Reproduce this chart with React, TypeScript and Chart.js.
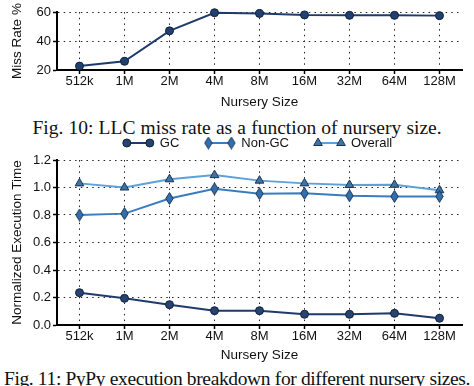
import React, { useEffect, useRef } from "react";
import { Chart, registerables } from "chart.js";
import { drawPoint } from "chart.js/helpers";

Chart.register(...registerables);

// ---------- data ----------
const nurserySizes = ["512k", "1M", "2M", "4M", "8M", "16M", "32M", "64M", "128M"];
const missRate = [22.7, 26, 47, 59.5, 59, 58, 57.7, 57.7, 57.5];
const missTicks = [20, 30, 40, 50, 60];
const seriesNames = ["GC", "Non-GC", "Overall"];
const gcTime = [0.235, 0.194, 0.148, 0.104, 0.104, 0.078, 0.078, 0.085, 0.049];
const nonGcTime = [0.8, 0.81, 0.92, 0.99, 0.955, 0.958, 0.94, 0.935, 0.935];
const overallTime = [1.03, 1.0, 1.06, 1.09, 1.05, 1.03, 1.018, 1.02, 0.98];
const timeTicks = [0, 0.2, 0.4, 0.6, 0.8, 1.0, 1.2];
const caption1 = "Fig. 10: LLC miss rate as a function of nursery size.";
const caption2 = "Fig. 11: PyPy execution breakdown for different nursery sizes.";
const xTitle = "Nursery Size";
const yTitle1 = "Miss Rate %";
const yTitle2 = "Normalized Execution Time";

const SANS = '"Liberation Sans", Arial, sans-serif';
const SERIF = '"Liberation Serif", "Times New Roman", serif';

function thinDiamond(fill: string, stroke: string) {
  const c = document.createElement("canvas");
  c.width = 9;
  c.height = 13;
  const g = c.getContext("2d")!;
  g.beginPath();
  g.moveTo(4.5, 0.6);
  g.lineTo(8.2, 6.5);
  g.lineTo(4.5, 12.4);
  g.lineTo(0.8, 6.5);
  g.closePath();
  g.fillStyle = fill;
  g.fill();
  g.lineWidth = 1;
  g.strokeStyle = stroke;
  g.stroke();
  return c;
}

const legendPlugin = {
  id: "lineLegend",
  afterDraw(chart: any) {
    const ctx = chart.ctx;
    const ds = chart.data.datasets;
    ctx.save();
    ctx.font = `13px ${SANS}`;
    const seg = 23,
      gapText = 10,
      gapItem = 29;
    const widths = ds.map((d: any) => seg + gapText + ctx.measureText(d.label).width);
    const total = widths.reduce((a: number, b: number) => a + b, 0) + gapItem * (ds.length - 1);
    let x = (chart.chartArea.left + chart.chartArea.right) / 2 - total / 2;
    const y = 11;
    ds.forEach((d: any, i: number) => {
      ctx.strokeStyle = d.borderColor;
      ctx.lineWidth = d.borderWidth;
      ctx.setLineDash([]);
      ctx.beginPath();
      ctx.moveTo(x, y);
      ctx.lineTo(x + seg, y);
      ctx.stroke();
      ctx.fillStyle = d.pointBackgroundColor;
      ctx.strokeStyle = d.pointBorderColor;
      ctx.lineWidth = d.pointBorderWidth;
      const opts = { pointStyle: d.pointStyle, radius: d.pointRadius, borderWidth: d.pointBorderWidth, rotation: 0 };
      drawPoint(ctx, opts as any, x, y);
      drawPoint(ctx, opts as any, x + seg, y);
      ctx.fillStyle = "#111";
      ctx.textBaseline = "middle";
      ctx.textAlign = "left";
      ctx.fillText(d.label, x + seg + gapText, y + 0.5);
      x += widths[i] + gapItem;
    });
    ctx.restore();
  },
};

function axisCommon(title: string, titlePad: any) {
  return {
    title: { display: true, text: title, color: "#111", font: { family: SANS, size: 13.5 }, padding: titlePad },
    border: { display: true, color: "#000", width: 2, dash: [1.5, 4.2] },
    grid: {
      color: "#222",
      lineWidth: 1,
      tickColor: "#000",
      tickWidth: 1.5,
      tickLength: 4,
      tickBorderDash: [],
    },
  };
}

function buildOptions(yMin: number, yMax: number, ticks: number[], yTitle: string, fmt: (v: number) => string, xHeight: number, padTop: number, xTitleBottom: number) {
  return {
    responsive: false,
    devicePixelRatio: 1,
    animation: false as const,
    layout: { padding: { top: padTop, right: 12, left: 0, bottom: 0 } },
    plugins: { legend: { display: false }, tooltip: { enabled: false } },
    scales: {
      x: {
        type: "category" as const,
        offset: true,
        ...axisCommon(xTitle, { top: 0, bottom: xTitleBottom }),
        grid: { ...axisCommon(xTitle, 0).grid, offset: false },
        ticks: { color: "#111", font: { family: SANS, size: 13 }, padding: 0, maxRotation: 0, autoSkip: false },
        afterFit: (s: any) => {
          s.height = xHeight;
        },
      },
      y: {
        type: "linear" as const,
        min: yMin,
        max: yMax,
        ...axisCommon(yTitle, { top: 9, bottom: 0 }),
        afterBuildTicks: (s: any) => {
          s.ticks = ticks.map((v) => ({ value: v }));
        },
        ticks: { color: "#111", font: { family: SANS, size: 13 }, padding: 2, callback: (v: any) => fmt(Number(v)) },
        afterFit: (s: any) => {
          s.width = 57;
        },
      },
    },
  };
}

function MissChart() {
  const ref = useRef<HTMLCanvasElement>(null);
  useEffect(() => {
    const chart = new Chart(ref.current!, {
      type: "line",
      data: {
        labels: nurserySizes,
        datasets: [
          {
            label: "Miss Rate",
            data: missRate,
            borderColor: "#1f3b6b",
            borderWidth: 2,
            pointRadius: 4,
            pointStyle: "circle",
            pointBackgroundColor: "#22406f",
            pointBorderColor: "#0f203c",
            pointBorderWidth: 1,
            tension: 0,
            clip: false as any,
          },
        ],
      },
      options: buildOptions(20, 60, missTicks, yTitle1, (v) => String(v), 42, 12, 2) as any,
    });
    return () => chart.destroy();
  }, []);
  return <canvas ref={ref} width={474} height={112} style={{ position: "absolute", left: 0, top: 0, width: 474, height: 112 }} />;
}

function TimeChart() {
  const ref = useRef<HTMLCanvasElement>(null);
  useEffect(() => {
    const diamond = thinDiamond("#3170ad", "#1a3658");
    const chart = new Chart(ref.current!, {
      type: "line",
      data: {
        labels: nurserySizes,
        datasets: [
          {
            label: seriesNames[0],
            data: gcTime,
            borderColor: "#1f3b6b",
            borderWidth: 2,
            pointRadius: 4,
            pointStyle: "circle",
            pointBackgroundColor: "#27436f",
            pointBorderColor: "#0f203c",
            pointBorderWidth: 1,
            tension: 0,
            clip: false as any,
          },
          {
            label: seriesNames[1],
            data: nonGcTime,
            borderColor: "#3a7cc0",
            borderWidth: 2,
            pointRadius: 5,
            pointStyle: diamond as any,
            pointBackgroundColor: "#3170ad",
            pointBorderColor: "#1a3658",
            pointBorderWidth: 1,
            tension: 0,
            clip: false as any,
          },
          {
            label: seriesNames[2],
            data: overallTime,
            borderColor: "#5ea0d8",
            borderWidth: 2,
            pointRadius: 5,
            pointStyle: "triangle",
            pointBackgroundColor: "#3f74a3",
            pointBorderColor: "#1a3354",
            pointBorderWidth: 1,
            tension: 0,
            clip: false as any,
          },
        ],
      },
      options: buildOptions(0, 1.2, timeTicks, yTitle2, (v) => v.toFixed(1), 41, 28, 3) as any,
      plugins: [legendPlugin],
    });
    return () => chart.destroy();
  }, []);
  return <canvas ref={ref} width={474} height={234} style={{ position: "absolute", left: 0, top: 132, width: 474, height: 234 }} />;
}

const captionStyle: React.CSSProperties = {
  position: "absolute",
  left: 0,
  width: 474,
  textAlign: "center",
  fontFamily: SERIF,
  fontSize: 19.5,
  lineHeight: "22px",
  color: "#111",
  whiteSpace: "nowrap",
};

export default function App() {
  return (
    <div style={{ position: "absolute", left: 0, top: 0, width: 474, height: 386, overflow: "hidden", background: "#fff" }}>
      <MissChart />
      <div style={{ ...captionStyle, top: 117, wordSpacing: "0.3px" }}>{caption1}</div>
      <TimeChart />
      <div style={{ ...captionStyle, top: 368, letterSpacing: "-0.36px" }}>{caption2}</div>
    </div>
  );
}
